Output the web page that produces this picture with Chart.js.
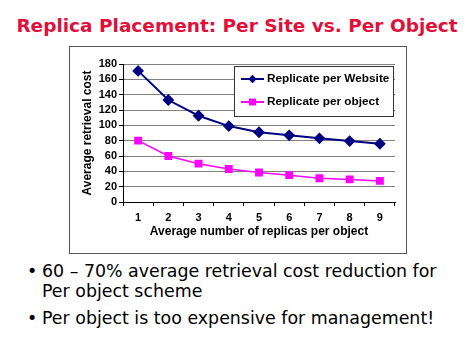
<!DOCTYPE html>
<html>
<head>
<meta charset="utf-8">
<script src="https://cdn.jsdelivr.net/npm/chart.js@4/dist/chart.umd.min.js"></script>
<style>
html,body{margin:0;padding:0;background:#fff;width:474px;height:355px;overflow:hidden;}
#title{position:absolute;left:0;top:15px;width:474px;text-align:center;color:#e0103a;font-family:"DejaVu Sans",sans-serif;font-weight:bold;font-size:18.5px;}
#box{position:absolute;left:69px;top:46px;width:336px;height:206px;border:1px solid #555;}
#box canvas{display:block;}
.bl{position:absolute;left:27px;font-family:"DejaVu Sans",sans-serif;font-size:17.4px;color:#000;}
.bl span{position:absolute;left:15px;white-space:nowrap;}
</style>
</head>
<body>
<div id="title">Replica Placement: Per Site vs. Per Object</div>
<div id="box"><canvas id="c" width="336" height="206"></canvas></div>
<div class="bl" style="top:261px">•<span>60 – 70% average retrieval cost reduction for</span></div>
<div class="bl" style="top:281px"><span>Per object scheme</span></div>
<div class="bl" style="top:308px">•<span>Per object is too expensive for management!</span></div>
<script>
const categories = ['1','2','3','4','5','6','7','8','9'];
const perWebsite = [171, 133, 112.5, 99, 91, 87, 83, 79.5, 76];
const perObject = [80, 60, 50, 43, 38.5, 35, 31, 29.5, 27.5];
const seriesNames = ['Replicate per Website', 'Replicate per object'];
const yTicks = [0,20,40,60,80,100,120,140,160,180];

const legendPlugin = {
  id: 'boxLegend',
  afterDraw(chart) {
    const ctx = chart.ctx;
    const x0 = 164, y0 = 19, w = 159, h = 50;
    ctx.save();
    ctx.fillStyle = '#fff';
    ctx.fillRect(x0, y0, w, h);
    ctx.strokeStyle = '#333';
    ctx.lineWidth = 1;
    ctx.strokeRect(x0 + 0.5, y0 + 0.5, w, h);
    ctx.font = 'bold 11.8px "Liberation Sans", Arial, sans-serif';
    ctx.textBaseline = 'middle';
    chart.data.datasets.forEach((ds, i) => {
      const cy = y0 + 13 + i * 23;
      ctx.strokeStyle = ds.borderColor;
      ctx.lineWidth = 2;
      ctx.beginPath();
      ctx.moveTo(x0 + 7, cy);
      ctx.lineTo(x0 + 30, cy);
      ctx.stroke();
      ctx.fillStyle = ds.pointBackgroundColor;
      ctx.beginPath();
      if (ds.pointStyle === 'rectRot') {
        const r = 4.2;
        ctx.moveTo(x0 + 18.5, cy - r);
        ctx.lineTo(x0 + 18.5 + r, cy);
        ctx.lineTo(x0 + 18.5, cy + r);
        ctx.lineTo(x0 + 18.5 - r, cy);
        ctx.closePath();
      } else {
        ctx.rect(x0 + 15, cy - 3.5, 7, 7);
      }
      ctx.fill();
      ctx.fillStyle = '#000';
      ctx.fillText(ds.label, x0 + 33, cy);
    });
    ctx.restore();
  }
};

new Chart(document.getElementById('c'), {
  type: 'line',
  data: {
    labels: categories,
    datasets: [
      {label: seriesNames[0], data: perWebsite, borderColor: '#000080', backgroundColor: '#000080',
       pointBackgroundColor: '#000080', pointBorderColor: '#000080', pointStyle: 'rectRot',
       pointRadius: 4.5, borderWidth: 2, tension: 0},
      {label: seriesNames[1], data: perObject, borderColor: '#ff00ff', backgroundColor: '#ff00ff',
       pointBackgroundColor: '#ff00ff', pointBorderColor: '#ff00ff', pointStyle: 'rect',
       pointRadius: 4.5, borderWidth: 1.5, tension: 0}
    ]
  },
  options: {
    responsive: false,
    animation: false,
    devicePixelRatio: 1,
    layout: {padding: {left: 0, right: 11, top: 17, bottom: 0}},
    plugins: {legend: {display: false}, tooltip: {enabled: false}},
    scales: {
      x: {
        offset: true,
        afterFit(scale) { scale.height = 51; },
        grid: {offset: true, drawOnChartArea: false, color: '#000', tickLength: 4, tickColor: '#000'},
        border: {color: '#000', width: 1},
        ticks: {color: '#000', autoSkip: false, maxRotation: 0, font: {family: '"Liberation Sans", Arial', weight: 'bold', size: 11}, padding: 5},
        title: {display: true, text: 'Average number of replicas per object', color: '#000',
                font: {family: '"Liberation Sans", Arial', weight: 'bold', size: 12}, padding: {top: 0, bottom: 14}}
      },
      y: {
        min: 0, max: 180,
        afterFit(scale) { scale.width = 53; },
        afterBuildTicks(scale) { scale.ticks = yTicks.map(v => ({value: v})); },
        grid: {color: '#808080', tickLength: 4, tickColor: '#000', lineWidth: 1},
        border: {color: '#000', width: 1},
        ticks: {color: '#000', autoSkip: false, font: {family: '"Liberation Sans", Arial', weight: 'bold', size: 11}, padding: 2},
        title: {display: true, text: 'Average retrieval cost', color: '#000',
                font: {family: '"Liberation Sans", Arial', weight: 'bold', size: 12}, padding: {top: 10, bottom: 2}}
      }
    }
  },
  plugins: [legendPlugin]
});
</script>
</body>
</html>
